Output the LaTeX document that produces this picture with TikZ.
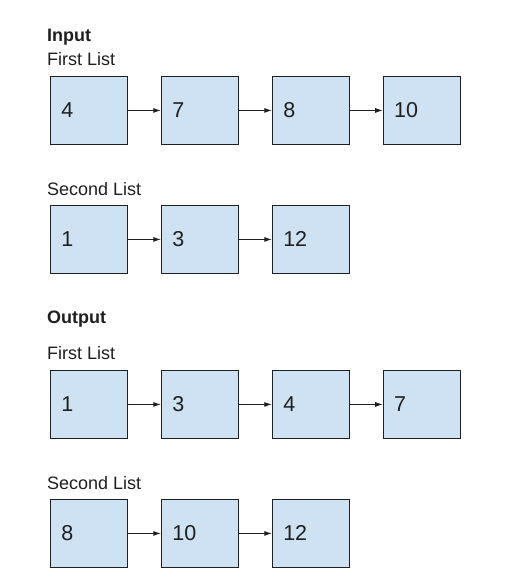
\documentclass[tikz,border=0pt]{standalone}
\usepackage{fontspec}
\setmainfont{Liberation Sans}
\usetikzlibrary{arrows.meta,positioning}
\definecolor{cell}{HTML}{CFE2F3}
\definecolor{ink}{HTML}{1F1F1F}
\tikzset{
  >={Latex[length=7.5pt,width=5pt]},
  every node/.style={text=ink},
  cellbox/.style={draw=ink,line width=0.9pt,fill=cell,minimum height=68pt,text width=55pt,inner xsep=11pt,inner ysep=0pt,align=left,font=\fontsize{21.5}{25}\selectfont},
  heading/.style={font=\fontsize{18}{21}\selectfont\bfseries,inner sep=0pt,anchor=base west},
  listname/.style={font=\fontsize{18}{21}\selectfont,inner sep=0pt,anchor=base west},
  arrow/.style={->,line width=0.9pt,draw=ink},
}

\begin{document}
\begin{tikzpicture}[x=1pt,y=1pt,node distance=5mm and 33pt]
\useasboundingbox (0,0) rectangle (529,-580);

% input
\node[heading] (inhead) at (47,-42) {Input};
\node[listname] (infirst) at (47,-66) {First List};
\node[cellbox,anchor=north west] (a1) at (50,-76) {4};
\node[cellbox,right=of a1] (a2) {7};
\node[cellbox,right=of a2] (a3) {8};
\node[cellbox,right=of a3] (a4) {10};

\node[listname] (insecond) at (47,-195) {Second List};
\node[cellbox,anchor=north west] (b1) at (50,-205) {1};
\node[cellbox,right=of b1] (b2) {3};
\node[cellbox,right=of b2] (b3) {12};

% output
\node[heading] (outhead) at (47,-323) {Output};
\node[listname] (outfirst) at (47,-359) {First List};
\node[cellbox,anchor=north west] (c1) at (50,-370) {1};
\node[cellbox,right=of c1] (c2) {3};
\node[cellbox,right=of c2] (c3) {4};
\node[cellbox,right=of c3] (c4) {7};

\node[listname] (outsecond) at (47,-489) {Second List};
\node[cellbox,anchor=north west] (d1) at (50,-499) {8};
\node[cellbox,right=of d1] (d2) {10};
\node[cellbox,right=of d2] (d3) {12};

\draw[arrow] (a1) -- (a2);
\draw[arrow] (a2) -- (a3);
\draw[arrow] (a3) -- (a4);
\draw[arrow] (b1) -- (b2);
\draw[arrow] (b2) -- (b3);
\draw[arrow] (c1) -- (c2);
\draw[arrow] (c2) -- (c3);
\draw[arrow] (c3) -- (c4);
\draw[arrow] (d1) -- (d2);
\draw[arrow] (d2) -- (d3);

\end{tikzpicture}
\end{document}
